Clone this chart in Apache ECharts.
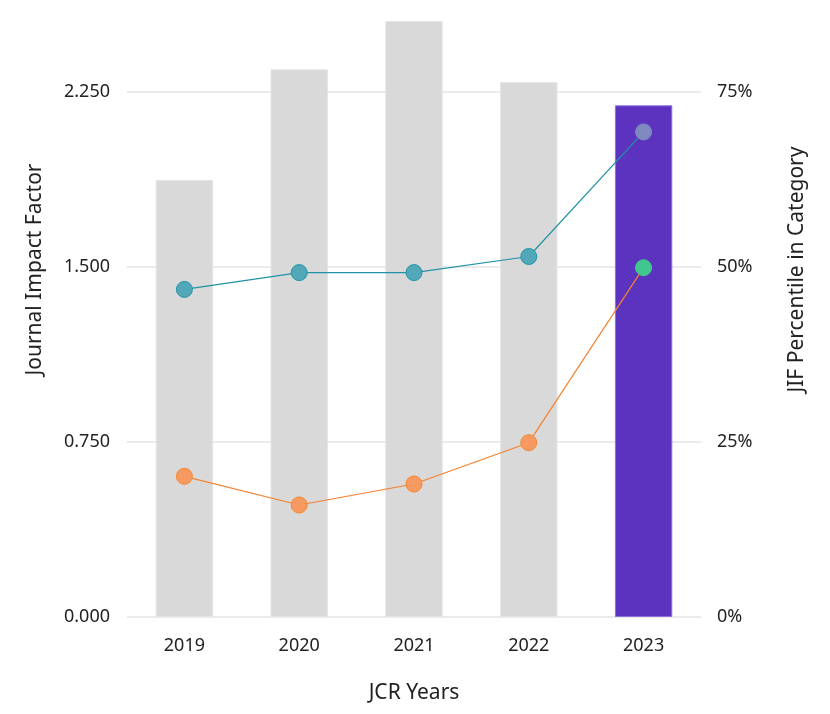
<!DOCTYPE html>
<html><head><meta charset="utf-8">
<script src="https://cdn.jsdelivr.net/npm/echarts@6/dist/echarts.min.js"></script>
<style>html,body{margin:0;padding:0;background:#fff}#c{width:830px;height:714px}</style>
</head><body><div id="c"></div>
<script>
const years = ['2019','2020','2021','2022','2023'];
const jif = [1.873, 2.347, 2.554, 2.293, 2.193];
const pctTeal = [46.8, 49.2, 49.2, 51.5, 69.3];
const pctOrange = [20.1, 16.0, 19.0, 24.9, 49.9];
const leftTicks = [0, 0.75, 1.5, 2.25];
const rightTicks = [0, 25, 50, 75];

const font = 'Noto Sans';
const txt = '#222';
const last = years.length - 1;

const barData = jif.map((v, i) => i === last
  ? {value: v, itemStyle: {color: '#5c33bf', borderColor: '#8f6fe0', borderWidth: 1}}
  : v);
const tealData = pctTeal.map((v, i) => i === last
  ? {value: v, itemStyle: {color: '#8088c0', borderColor: '#8088c0'}}
  : v);
const orangeData = pctOrange.map((v, i) => i === last
  ? {value: v, itemStyle: {color: '#40c78f', borderColor: '#40c78f'}}
  : v);

const chart = echarts.init(document.getElementById('c'), null, {renderer: 'canvas'});
chart.setOption({
  animation: false,
  backgroundColor: '#fff',
  textStyle: {fontFamily: font},
  grid: {left: 127, right: 129, top: 92, bottom: 97},
  xAxis: {
    type: 'category', data: years,
    name: 'JCR Years', nameLocation: 'middle', nameGap: 66,
    nameTextStyle: {fontFamily: font, fontSize: 21, color: txt},
    axisLine: {show: false}, axisTick: {show: false},
    axisLabel: {fontFamily: font, fontSize: 18, color: txt, margin: 20}
  },
  yAxis: [{
    type: 'value', min: leftTicks[0], max: leftTicks[leftTicks.length - 1], interval: leftTicks[1] - leftTicks[0],
    name: 'Journal Impact Factor', nameLocation: 'middle', nameGap: 81, nameRotate: 90,
    nameTextStyle: {fontFamily: font, fontSize: 21, color: txt, padding: [0, 0, 0, 170]},
    axisLine: {show: false}, axisTick: {show: false},
    axisLabel: {fontFamily: font, fontSize: 18, color: txt, margin: 17, formatter: v => v.toFixed(3)},
    splitLine: {show: true, lineStyle: {color: '#e4e4e4', width: 1.5}}
  }, {
    type: 'value', min: rightTicks[0], max: rightTicks[rightTicks.length - 1], interval: rightTicks[1] - rightTicks[0],
    name: 'JIF Percentile in Category', nameLocation: 'middle', nameGap: 86, nameRotate: 90,
    nameTextStyle: {fontFamily: font, fontSize: 21, color: txt, padding: [0, 0, 0, 170]},
    axisLine: {show: false}, axisTick: {show: false},
    axisLabel: {fontFamily: font, fontSize: 18, color: txt, margin: 16, formatter: '{value}%'},
    splitLine: {show: false}
  }],
  series: [{
    type: 'bar', data: barData, barWidth: '50%', clip: false, z: 1,
    itemStyle: {color: '#d9d9d9', borderColor: '#e4e4e4', borderWidth: 1}
  }, {
    type: 'line', yAxisIndex: 1, data: tealData, z: 3,
    symbol: 'circle', symbolSize: 16,
    lineStyle: {color: '#1f93a6', width: 1.2},
    itemStyle: {color: '#52a8b8', borderColor: '#1f95a8', borderWidth: 1}
  }, {
    type: 'line', yAxisIndex: 1, data: orangeData, z: 3,
    symbol: 'circle', symbolSize: 16,
    lineStyle: {color: '#f5822e', width: 1.2},
    itemStyle: {color: '#f79a62', borderColor: '#f5882f', borderWidth: 1}
  }]
});
</script></body></html>
